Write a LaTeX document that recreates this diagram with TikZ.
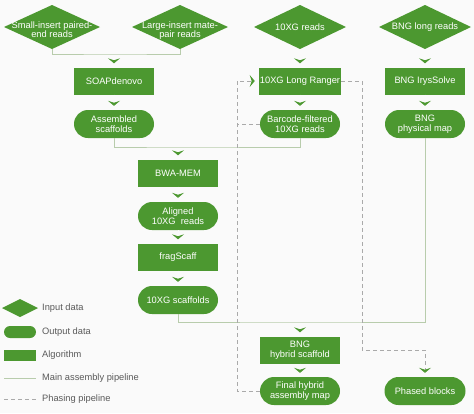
\documentclass[tikz,border=0pt]{standalone}
\usepackage{fontspec}
\setmainfont{Liberation Sans}
\usetikzlibrary{shapes,arrows.meta}
\definecolor{boxgreen}{RGB}{76,152,48}
\definecolor{pipegreen}{RGB}{184,204,172}
\definecolor{phasegray}{RGB}{170,170,170}
\definecolor{keygray}{RGB}{90,90,90}
\definecolor{paper}{RGB}{250,250,250}
\newcommand{\nodefont}{\fontsize{9.3}{10.5}\selectfont}
\newcommand{\diamondfont}{\fontsize{9.3}{9.6}\selectfont}
\newcommand{\lowered}[1]{\raisebox{-6.5pt}[0pt][0pt]{\begin{tabular}{@{}c@{}}#1\end{tabular}}}
\newcommand{\colA}{114}
\newcommand{\colB}{178}
\newcommand{\colC}{300}
\newcommand{\colD}{425}
\tikzstyle{algo}=[rectangle,fill=boxgreen,text=white,minimum width=80pt,minimum height=27pt,inner sep=1pt,align=center,font=\nodefont]
\tikzstyle{outdata}=[algo,rounded corners=14pt,minimum height=28pt]
\tikzstyle{indata}=[rectangle,fill=paper,minimum width=96pt,minimum height=44pt,inner sep=1pt,text=white,align=center,font=\diamondfont,
  path picture={\fill[boxgreen] (path picture bounding box.north) -- (path picture bounding box.east) -- (path picture bounding box.south) -- (path picture bounding box.west) -- cycle;}]
\tikzstyle{keytext}=[anchor=west,text=keygray,font=\nodefont,inner sep=0pt]
\tikzstyle{mainpipe}=[draw=pipegreen,line width=0.8pt]
\tikzstyle{phasepipe}=[draw=phasegray,line width=0.8pt,dash pattern=on 4pt off 3pt]
\tikzstyle{greentip}=[-{Stealth[length=5pt,width=12pt,inset=2pt,color=boxgreen,fill=boxgreen]},shorten >=4pt]
\tikzstyle{flowarrow}=[draw=paper,line width=0.8pt,greentip]

\begin{document}
\begin{tikzpicture}[x=1pt,y=-1pt]
  \fill[paper] (0,0) rectangle (474,413);
  \useasboundingbox (0,0) rectangle (474,413);

  % inputs
  \node[indata] (small) at (52,27)   {\lowered{Small-insert paired-\\end reads}};
  \node[indata] (large) at (180,27)  {\lowered{Large-insert mate-\\pair reads}};
  \node[indata,minimum width=92pt] (xgreads) at (\colC,27) {10XG reads};
  \node[indata,minimum width=92pt] (bngreads) at (\colD,27) {BNG long reads};

  \node[algo]    (soap) at (\colA,81)  {SOAPdenovo};
  \node[outdata] (asm) at (\colA,124)  {Assembled\\scaffolds};

  \node[algo]    (ranger) at (\colC,81)  {10XG Long Ranger};
  \node[outdata] (barcode) at (\colC,124) {Barcode-filtered\\10XG reads};

  \node[algo]    (irys) at (\colD,81)  {BNG IrysSolve};
  \node[outdata] (physmap) at (\colD,124) {BNG\\physical map};

  \node[algo]    (bwa) at (\colB,173)     {BWA-MEM};
  \node[outdata] (aligned) at (\colB,216) {Aligned\\10XG\ \ reads};
  \node[algo]    (frag) at (\colB,257)    {fragScaff};
  \node[outdata] (xgscaf) at (\colB,300)  {10XG scaffolds};

  \node[algo]    (hybrid) at (\colC,350) {BNG\\hybrid scaffold};
  \node[outdata] (final) at (\colC,391)  {Final hybrid\\assembly map};
  \node[outdata,minimum width=81pt] (phased) at (\colD,391) {Phased blocks};

  \coordinate (inputjoin) at (\colA,54);
  \coordinate (scafjoin) at (\colB,147);
  \coordinate (hybridjoin) at (\colC,322);
  \coordinate (phasejoin) at (237,124);

  \draw[flowarrow] (inputjoin) -- (soap);
  \draw[flowarrow] (soap) -- (asm);
  \draw[flowarrow] (xgreads) -- (ranger);
  \draw[flowarrow] (ranger) -- (barcode);
  \draw[flowarrow] (bngreads) -- (irys);
  \draw[flowarrow] (irys) -- (physmap);
  \draw[flowarrow] (scafjoin) -- (bwa);
  \draw[flowarrow] (bwa) -- (aligned);
  \draw[flowarrow] (aligned) -- (frag);
  \draw[flowarrow] (frag) -- (xgscaf);
  \draw[flowarrow] (hybridjoin) -- (hybrid);
  \draw[flowarrow] (hybrid) -- (final);

  \draw[mainpipe] (small.south) |- (inputjoin) -| (large.south);
  \draw[mainpipe] (asm.south) |- (scafjoin) -| (barcode.south);
  \draw[mainpipe] (xgscaf.south) |- (hybridjoin) -| (physmap.south);

  % phasing
  \draw[phasepipe,greentip] (final.west) -| (237,81) -- (ranger.west);
  \draw[phasepipe] (barcode.west) -- (phasejoin);
  \draw[phasepipe,greentip] (ranger.east) -| (362,350) -| (phased.north);

  % key
  \node[indata,minimum width=36pt,minimum height=18pt] (keyin) at (20,308) {};
  \node[outdata,minimum width=32pt,minimum height=12pt,rounded corners=6pt] (keyout) at (20,332) {};
  \node[algo,minimum width=32pt,minimum height=11pt] (keyalgo) at (20,355) {};
  \coordinate (keymainA) at (4,378);
  \coordinate (keymainB) at (36,378);
  \coordinate (keyphaseA) at (4,399);
  \coordinate (keyphaseB) at (36,399);
  \draw[mainpipe] (keymainA) -- (keymainB);
  \draw[phasepipe] (keyphaseA) -- (keyphaseB);
  \node[keytext] (keyintext) at (42,308) {Input data};
  \node[keytext] (keyouttext) at (42,332) {Output data};
  \node[keytext] (keyalgotext) at (42,355) {Algorithm};
  \node[keytext] (keymaintext) at (42,378) {Main assembly pipeline};
  \node[keytext] (keyphasetext) at (42,399) {Phasing pipeline};
\end{tikzpicture}
\end{document}
